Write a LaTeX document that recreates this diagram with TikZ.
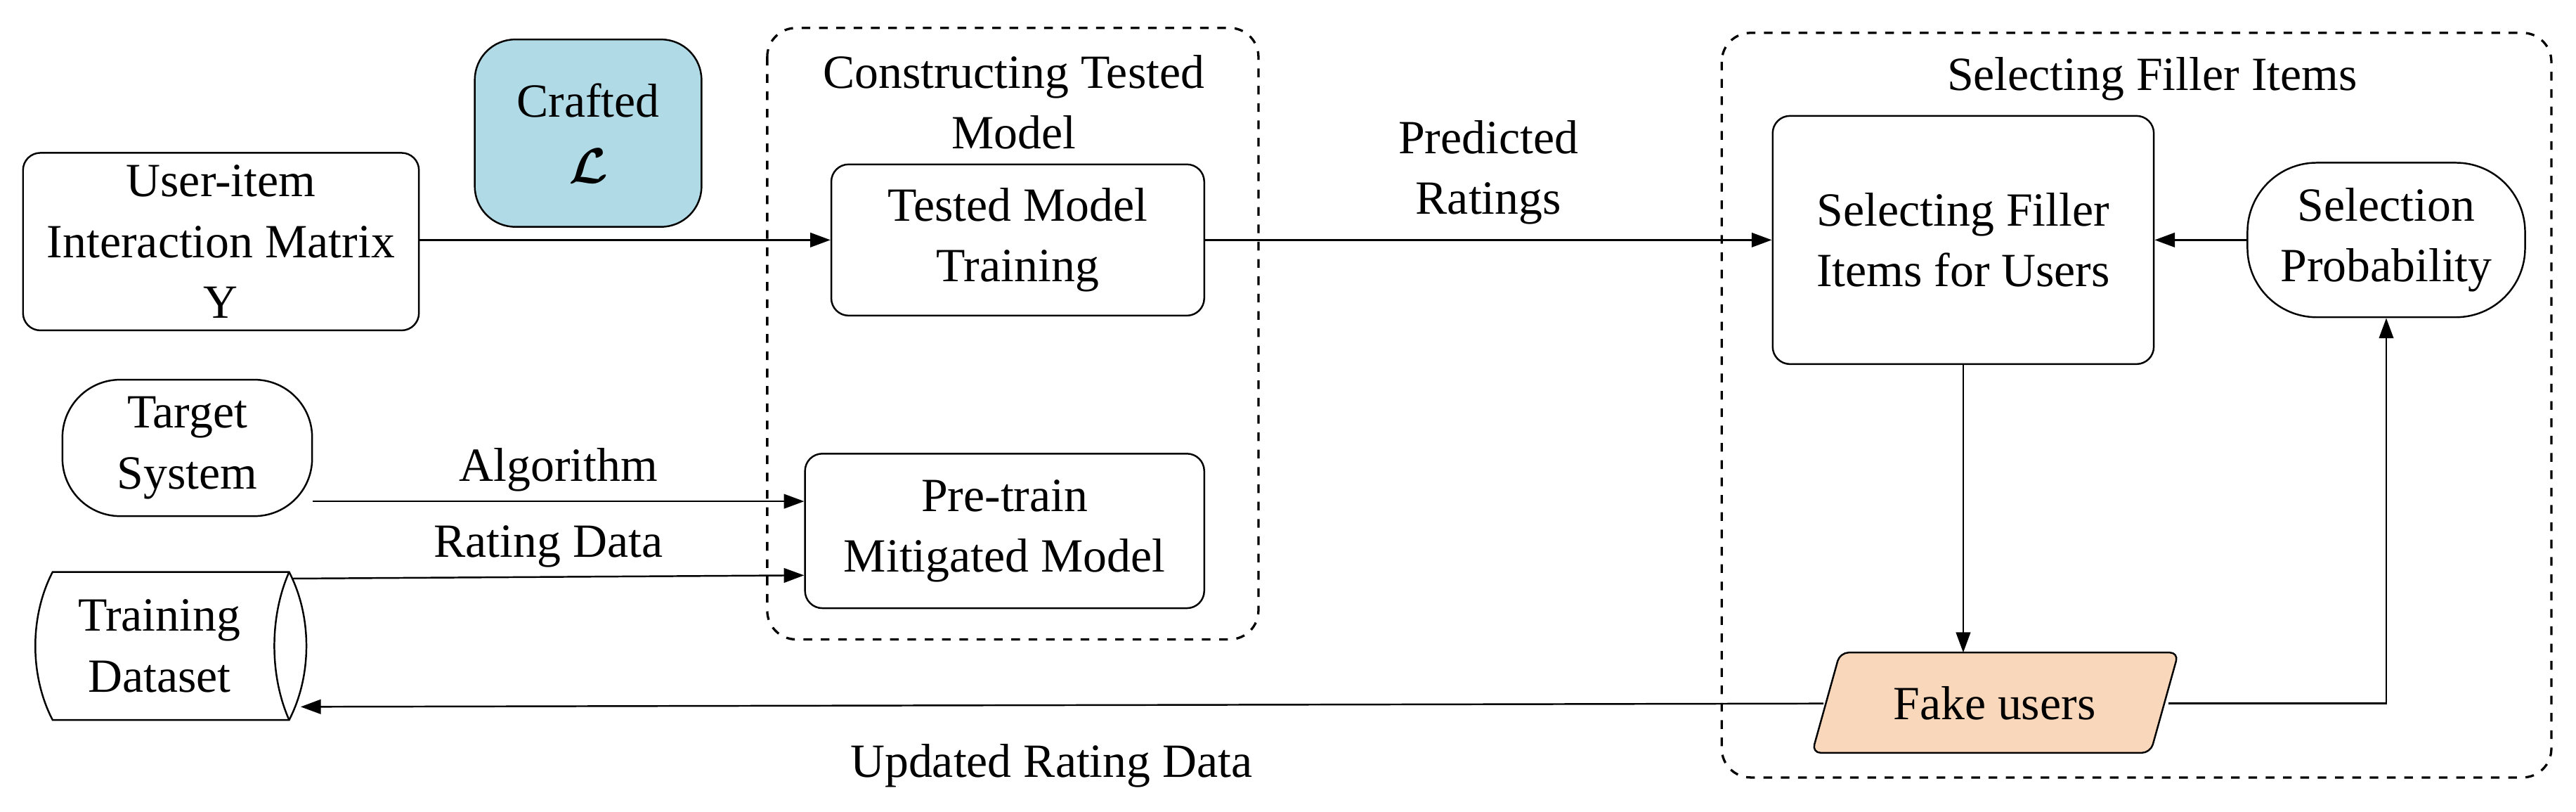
\documentclass[tikz,border=0pt]{standalone}
\usepackage{fontspec}
\setmainfont{Liberation Serif}
\newfontfamily\tms{Liberation Serif}
\usepackage{amsmath,bm}
\usetikzlibrary{arrows.meta}
\begin{document}
\begin{tikzpicture}[x=0.02cm,y=-0.02cm,
  every node/.style={font=\tms\fontsize{16.5}{21}\selectfont,align=center,inner sep=0pt},
  box/.style={draw,line width=0.6pt,rounded corners=6pt},
  stad/.style={draw,line width=0.6pt,rounded corners=20pt},
  grp/.style={draw,dashed,line width=0.8pt,rounded corners=10pt},
  arr/.style={-{Triangle[length=7pt,width=5pt]},line width=0.6pt}]
\useasboundingbox (0,0) rectangle (1568,494);
% groups
\draw[grp] (467,17) rectangle (766,389);
\draw[grp] (1048,20) rectangle (1553,473);
\node (t1) at (617,62) {Constructing Tested\\Model};
\node (t2) at (1310,48) {Selecting Filler Items};
% boxes
\node[box,minimum width=241*0.02cm,minimum height=108*0.02cm] (ui) at (134.5,147) {User-item\\Interaction Matrix\\Y};
\node[box,rounded corners=14pt,fill={rgb,255:red,176;green,219;blue,230},minimum width=138*0.02cm,minimum height=114*0.02cm] (cr) at (358,81) {Crafted\\[2pt]$\bm{\mathcal{L}}$};
\node[box,minimum width=227*0.02cm,minimum height=92*0.02cm] (tm) at (619.5,146) {Tested Model\\Training};
\node[box,minimum width=243*0.02cm,minimum height=94*0.02cm] (pt) at (611.5,323) {Pre-train\\Mitigated Model};
\node[stad,minimum width=152*0.02cm,minimum height=83*0.02cm] (ts) at (114,272.5) {Target\\System};
\node[box,minimum width=232*0.02cm,minimum height=151*0.02cm] (sf) at (1195,146) {Selecting Filler\\Items for Users};
\node[stad,rounded corners=24pt,minimum width=169*0.02cm,minimum height=94*0.02cm] (sp) at (1452.5,146) {Selection\\Probability};
% training dataset drum
\draw[line width=0.6pt,fill=white] (32,348) -- (176,348) .. controls (190,375) and (190,411) .. (176,438) -- (32,438) .. controls (18,411) and (18,375) .. (32,348) -- cycle;
\draw[line width=0.6pt] (176,348) .. controls (164,375) and (164,411) .. (176,438);
\node (td) at (97,393) {Training\\Dataset};
\coordinate (tdr) at (183,430);
\coordinate (tdt) at (178,352);
% fake users
\draw[line width=0.6pt,fill={rgb,255:red,249;green,215;blue,186},rounded corners=3pt] (1120,397) -- (1326,397) -- (1309,458) -- (1103,458) -- cycle;
\node (fu) at (1214,428) {Fake users};
\coordinate (ful) at (1110,428);
\coordinate (fur) at (1320,428);
% arrows
\draw[arr] (ui.east|-0,146) -- (tm.west);
\draw[arr] (tm.east) -- node[above=5pt] {Predicted\\Ratings} (sf.west);
\draw[arr] (sp.west) -- (sf.east);
\draw[arr] (sf.south) -- (sf.south|-0,397);
\draw[arr] (fur) -| (sp.south);
\draw[arr] (ful) -- (tdr);
\node (urd) at (640,466) {Updated Rating Data};
\draw[arr] (ts.east|-0,305) -- node[above=3pt] {Algorithm} (pt.west|-0,305);
\draw[arr] (tdt) -- node[above=3pt] {Rating Data} (pt.west|-0,350);
\end{tikzpicture}
\end{document}
